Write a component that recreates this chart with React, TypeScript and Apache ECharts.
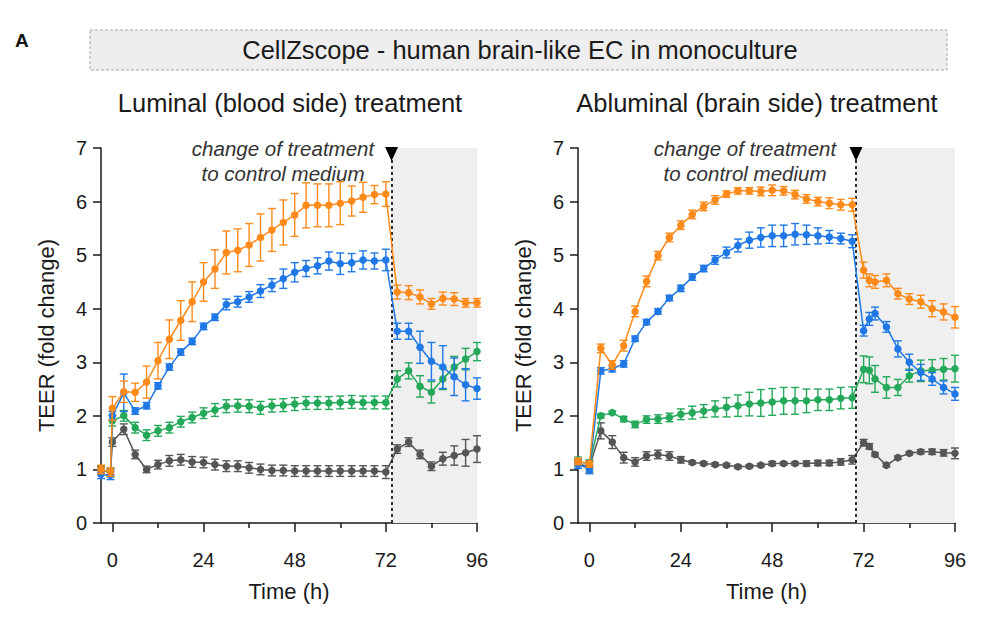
import React, { useEffect, useRef } from "react";
import * as echarts from "echarts";

const FONT = "'Liberation Sans', Arial, Helvetica, sans-serif";

// Sampling times (h)
const luminalTime = [
  -3, -0.5, 0, 3, 6, 9, 12, 15, 18, 21, 24, 27, 30, 33, 36, 39, 42, 45, 48, 51, 54, 57, 60, 63, 66, 69, 72,
  75, 78, 81, 84, 87, 90, 93, 96,
];
const abluminalTime = [
  -3, 0, 3, 6, 9, 12, 15, 18, 21, 24, 27, 30, 33, 36, 39, 42, 45, 48, 51, 54, 57, 60, 63, 66, 69,
  72, 73.5, 75, 78, 81, 84, 87, 90, 93, 96,
];

// Time at which the treatment was replaced by control medium
const luminalSwitch = 73.5;
const abluminalSwitch = 70;

// Axis ticks
const yTicks = [0, 1, 2, 3, 4, 5, 6, 7];
const xMajorTicks = [0, 24, 48, 72, 96];
const xMinorTicks = [12, 36, 60, 84];

// Luminal treatment: mean TEER fold change and error
const lumOrange = [
  1.0, 0.95, 2.14, 2.45, 2.44, 2.63, 3.03, 3.43, 3.78, 4.13, 4.5, 4.74, 5.05, 5.09, 5.19, 5.33, 5.47, 5.61, 5.75,
  5.93, 5.93, 5.93, 5.97, 6.01, 6.08, 6.13, 6.14,
  4.31, 4.3, 4.22, 4.09, 4.19, 4.18, 4.11, 4.11,
];
const lumOrangeErr = [
  0.08, 0.08, 0.22, 0.2, 0.17, 0.3, 0.34, 0.36, 0.37, 0.37, 0.36, 0.36, 0.4, 0.4, 0.4, 0.44, 0.4, 0.42, 0.4,
  0.42, 0.4, 0.4, 0.4, 0.28, 0.28, 0.17, 0.23,
  0.13, 0.13, 0.13, 0.1, 0.12, 0.12, 0.08, 0.08,
];
const lumBlue = [
  0.91, 0.89, 2.0, 2.43, 2.09, 2.19, 2.56, 2.91, 3.19, 3.39, 3.67, 3.84, 4.08, 4.13, 4.22, 4.33, 4.44, 4.56, 4.68,
  4.75, 4.8, 4.89, 4.84, 4.86, 4.91, 4.89, 4.91,
  3.58, 3.58, 3.28, 3.02, 2.91, 2.73, 2.58, 2.51,
];
const lumBlueErr = [
  0.08, 0.08, 0.08, 0.35, 0.06, 0.06, 0.06, 0.06, 0.06, 0.06, 0.06, 0.06, 0.1, 0.1, 0.1, 0.12, 0.12, 0.18, 0.18,
  0.15, 0.15, 0.17, 0.2, 0.17, 0.17, 0.15, 0.2,
  0.15, 0.15, 0.3, 0.35, 0.4, 0.35, 0.3, 0.2,
];
const lumGreen = [
  0.99, 0.94, 1.91, 2.0, 1.78, 1.64, 1.72, 1.78, 1.89, 1.97, 2.05, 2.11, 2.18, 2.19, 2.18, 2.15, 2.19, 2.2, 2.22,
  2.24, 2.24, 2.24, 2.25, 2.26, 2.25, 2.25, 2.25,
  2.69, 2.84, 2.55, 2.44, 2.69, 2.91, 3.06, 3.2,
];
const lumGreenErr = [
  0.08, 0.08, 0.1, 0.1, 0.1, 0.1, 0.1, 0.1, 0.1, 0.1, 0.1, 0.12, 0.12, 0.12, 0.12, 0.12, 0.12, 0.12, 0.12,
  0.12, 0.12, 0.12, 0.12, 0.12, 0.12, 0.12, 0.12,
  0.15, 0.15, 0.2, 0.2, 0.2, 0.2, 0.2, 0.17,
];
const lumGrey = [
  0.99, 0.95, 1.51, 1.75, 1.28, 1.0, 1.09, 1.16, 1.18, 1.14, 1.13, 1.09, 1.06, 1.06, 1.03, 1.0, 0.98, 0.98, 0.97,
  0.97, 0.97, 0.97, 0.97, 0.97, 0.97, 0.97, 0.95,
  1.38, 1.51, 1.28, 1.06, 1.2, 1.26, 1.31, 1.38,
];
const lumGreyErr = [
  0.06, 0.06, 0.08, 0.1, 0.08, 0.06, 0.08, 0.1, 0.1, 0.1, 0.1, 0.1, 0.1, 0.1, 0.1, 0.1, 0.1, 0.1, 0.1,
  0.1, 0.1, 0.1, 0.1, 0.1, 0.1, 0.1, 0.12,
  0.08, 0.08, 0.08, 0.08, 0.12, 0.18, 0.25, 0.25,
];

// Abluminal treatment: mean TEER fold change and error
const ablOrange = [
  1.15, 1.1, 3.26, 2.95, 3.31, 3.95, 4.51, 4.99, 5.33, 5.56, 5.76, 5.91, 6.03, 6.14, 6.2, 6.2, 6.19, 6.21, 6.2,
  6.13, 6.05, 6.0, 5.97, 5.94, 5.94,
  4.72, 4.53, 4.5, 4.53, 4.28, 4.18, 4.13, 4.0, 3.94, 3.84,
];
const ablOrangeErr = [
  0.06, 0.06, 0.08, 0.08, 0.1, 0.1, 0.1, 0.08, 0.08, 0.08, 0.08, 0.08, 0.08, 0.06, 0.06, 0.06, 0.08, 0.1, 0.08,
  0.08, 0.08, 0.08, 0.1, 0.1, 0.12,
  0.15, 0.12, 0.12, 0.12, 0.1, 0.1, 0.12, 0.15, 0.15, 0.2,
];
const ablBlue = [
  1.1, 1.0, 2.84, 2.88, 2.97, 3.44, 3.75, 3.95, 4.2, 4.38, 4.59, 4.75, 4.91, 5.05, 5.18, 5.28, 5.33, 5.36, 5.36,
  5.39, 5.38, 5.36, 5.34, 5.31, 5.26,
  3.59, 3.81, 3.91, 3.66, 3.25, 3.0, 2.81, 2.69, 2.53, 2.41,
];
const ablBlueErr = [
  0.08, 0.08, 0.06, 0.06, 0.06, 0.05, 0.05, 0.05, 0.05, 0.06, 0.06, 0.06, 0.08, 0.1, 0.12, 0.15, 0.18, 0.2, 0.2,
  0.2, 0.18, 0.15, 0.12, 0.1, 0.12,
  0.1, 0.12, 0.12, 0.1, 0.15, 0.15, 0.15, 0.12, 0.12, 0.12,
];
const ablGreen = [
  1.15, 1.1, 2.0, 2.06, 1.94, 1.84, 1.93, 1.94, 1.97, 2.03, 2.06, 2.09, 2.13, 2.16, 2.19, 2.22, 2.24, 2.26, 2.28,
  2.28, 2.28, 2.3, 2.3, 2.33, 2.34,
  2.87, 2.85, 2.69, 2.53, 2.53, 2.75, 2.84, 2.85, 2.87, 2.88,
];
const ablGreenErr = [
  0.08, 0.08, 0.04, 0.03, 0.05, 0.06, 0.07, 0.08, 0.08, 0.1, 0.12, 0.12, 0.15, 0.18, 0.2, 0.22, 0.25, 0.25, 0.25,
  0.25, 0.22, 0.2, 0.2, 0.2, 0.2,
  0.25, 0.25, 0.25, 0.2, 0.15, 0.12, 0.2, 0.2, 0.2, 0.25,
];
const ablGrey = [
  1.1, 1.05, 1.72, 1.51, 1.22, 1.14, 1.25, 1.28, 1.25, 1.18, 1.13, 1.11, 1.09, 1.08, 1.05, 1.06, 1.08, 1.11, 1.11,
  1.11, 1.11, 1.12, 1.12, 1.14, 1.18,
  1.5, 1.43, 1.28, 1.08, 1.22, 1.3, 1.33, 1.33, 1.31, 1.3,
];
const ablGreyErr = [
  0.08, 0.1, 0.15, 0.12, 0.1, 0.08, 0.08, 0.08, 0.08, 0.06, 0.03, 0.03, 0.03, 0.03, 0.03, 0.03, 0.03, 0.04, 0.03,
  0.03, 0.05, 0.05, 0.05, 0.06, 0.08,
  0.06, 0.05, 0.03, 0.03, 0.03, 0.03, 0.04, 0.05, 0.06, 0.1,
];

const ORANGE = "#ff8a1a";
const BLUE = "#1f78e6";
const GREEN = "#24a85a";
const GREY = "#555555";
const INK = "#1a1a1a";

type Curve = { color: string; mean: number[]; err: number[] };
type Panel = {
  title: string;
  titleX: number;
  time: number[];
  switchAt: number;
  curves: Curve[];
  grid: { left: number; width: number };
};

const panels: Panel[] = [
  {
    title: "Luminal (blood side) treatment",
    titleX: 290,
    time: luminalTime,
    switchAt: luminalSwitch,
    grid: { left: 101, width: 376 },
    curves: [
      { color: GREY, mean: lumGrey, err: lumGreyErr },
      { color: GREEN, mean: lumGreen, err: lumGreenErr },
      { color: BLUE, mean: lumBlue, err: lumBlueErr },
      { color: ORANGE, mean: lumOrange, err: lumOrangeErr },
    ],
  },
  {
    title: "Abluminal (brain side) treatment",
    titleX: 757,
    time: abluminalTime,
    switchAt: abluminalSwitch,
    grid: { left: 578, width: 377 },
    curves: [
      { color: GREY, mean: ablGrey, err: ablGreyErr },
      { color: GREEN, mean: ablGreen, err: ablGreenErr },
      { color: BLUE, mean: ablBlue, err: ablBlueErr },
      { color: ORANGE, mean: ablOrange, err: ablOrangeErr },
    ],
  },
];

const GRID_TOP = 148;
const GRID_HEIGHT = 375;

function errorBarRenderer(color: string) {
  return (_params: any, api: any) => {
    const x = api.value(0);
    const top = api.coord([x, api.value(2)]);
    const bot = api.coord([x, api.value(1)]);
    const cap = 4;
    const style = { stroke: color, lineWidth: 1.4 };
    return {
      type: "group",
      children: [
        { type: "line", shape: { x1: top[0], y1: top[1], x2: bot[0], y2: bot[1] }, style },
        { type: "line", shape: { x1: top[0] - cap, y1: top[1], x2: top[0] + cap, y2: top[1] }, style },
        { type: "line", shape: { x1: bot[0] - cap, y1: bot[1], x2: bot[0] + cap, y2: bot[1] }, style },
      ],
    };
  };
}

function buildOption() {
  const grids: any[] = [];
  const xAxes: any[] = [];
  const yAxes: any[] = [];
  const series: any[] = [];
  const graphics: any[] = [];

  panels.forEach((p, i) => {
    grids.push({ left: p.grid.left, top: GRID_TOP, width: p.grid.width, height: GRID_HEIGHT, containLabel: false });

    // main x axis with labelled ticks
    xAxes.push({
      type: "value",
      gridIndex: i,
      min: -3,
      max: 96,
      splitLine: { show: false },
      axisLine: { show: true, onZero: false, lineStyle: { color: INK, width: 1.5 } },
      axisTick: { show: true, length: 9, customValues: xMajorTicks, lineStyle: { color: INK, width: 1.5 } },
      axisLabel: {
        show: true,
        customValues: xMajorTicks,
        color: INK,
        fontFamily: FONT,
        fontSize: 20,
        margin: 27,
      },
      name: "Time (h)",
      nameLocation: "middle",
      nameGap: 57,
      nameTextStyle: { color: INK, fontFamily: FONT, fontSize: 22 },
    });
    // unlabelled intermediate ticks
    xAxes.push({
      type: "value",
      gridIndex: i,
      min: -3,
      max: 96,
      position: "bottom",
      splitLine: { show: false },
      axisLine: { show: false },
      axisTick: { show: true, length: 5, customValues: xMinorTicks, lineStyle: { color: INK, width: 1.5 } },
      axisLabel: { show: false },
    });

    yAxes.push({
      type: "value",
      gridIndex: i,
      min: yTicks[0],
      max: yTicks[yTicks.length - 1],
      interval: 1,
      splitLine: { show: false },
      axisLine: { show: true, onZero: false, lineStyle: { color: INK, width: 1.5 } },
      axisTick: { show: true, length: 8, lineStyle: { color: INK, width: 1.5 } },
      axisLabel: { color: INK, fontFamily: FONT, fontSize: 20, margin: 14 },
      name: "TEER (fold change)",
      nameLocation: "middle",
      nameGap: 44,
      nameTextStyle: { color: INK, fontFamily: FONT, fontSize: 22 },
    });

    const xIdx = i * 2;

    // shaded post-switch period, dashed switch marker and arrowhead
    series.push({
      type: "line",
      xAxisIndex: xIdx,
      yAxisIndex: i,
      data: [],
      silent: true,
      z: 0,
      markArea: {
        silent: true,
        itemStyle: { color: "#efefef" },
        data: [[{ coord: [p.switchAt, 0] }, { coord: [96, 7] }]],
      },
      markLine: {
        silent: true,
        symbol: ["none", "none"],
        label: { show: false },
        lineStyle: { color: INK, width: 1.8, type: [3, 3] },
        data: [[{ coord: [p.switchAt, 0] }, { coord: [p.switchAt, 7] }]],
      },
      markPoint: {
        silent: true,
        data: [
          {
            coord: [p.switchAt, 7],
            symbol: "triangle",
            symbolSize: [13, 14],
            symbolRotate: 180,
            symbolOffset: [0, 6],
            itemStyle: { color: "#000" },
            label: { show: false },
          },
        ],
      },
    });

    p.curves.forEach((c, k) => {
      series.push({
        type: "custom",
        xAxisIndex: xIdx,
        yAxisIndex: i,
        z: 2 + k * 2,
        silent: true,
        renderItem: errorBarRenderer(c.color),
        encode: { x: 0, y: [1, 2] },
        data: p.time.map((t, j) => [t, c.mean[j] - c.err[j], c.mean[j] + c.err[j]]),
      });
      series.push({
        type: "line",
        xAxisIndex: xIdx,
        yAxisIndex: i,
        z: 3 + k * 2,
        silent: true,
        symbol: "circle",
        symbolSize: 7.5,
        showSymbol: true,
        lineStyle: { color: c.color, width: 1.5 },
        itemStyle: { color: c.color, borderWidth: 0 },
        data: p.time.map((t, j) => [t, c.mean[j]]),
      });
    });

    // panel title
    graphics.push({
      type: "text",
      x: p.titleX,
      y: 103,
      style: {
        text: p.title,
        fill: INK,
        font: `25.5px ${FONT}`,
        textAlign: "center",
        textVerticalAlign: "middle",
      },
    });
  });

  // annotation text above each switch line
  const annots = [283, 745];
  annots.forEach((ax) => {
    graphics.push({
      type: "text",
      x: ax,
      y: 148,
      style: {
        text: "change of treatment",
        fill: "#333",
        font: `italic 20.5px ${FONT}`,
        textAlign: "center",
        textVerticalAlign: "middle",
      },
    });
    graphics.push({
      type: "text",
      x: ax,
      y: 173,
      style: {
        text: "to control medium",
        fill: "#333",
        font: `italic 20.5px ${FONT}`,
        textAlign: "center",
        textVerticalAlign: "middle",
      },
    });
  });

  // header box
  graphics.push({
    type: "rect",
    shape: { x: 90, y: 30, width: 857, height: 40 },
    style: { fill: "#eeeeee", stroke: "#a8a8a8", lineWidth: 1, lineDash: [3, 2] },
    z: 0,
  });
  graphics.push({
    type: "text",
    x: 520,
    y: 50,
    style: {
      text: "CellZscope - human brain-like EC in monoculture",
      fill: INK,
      font: `25.5px ${FONT}`,
      textAlign: "center",
      textVerticalAlign: "middle",
    },
    z: 1,
  });
  graphics.push({
    type: "text",
    x: 15,
    y: 40,
    style: { text: "A", fill: "#111", font: `bold 19px ${FONT}`, textAlign: "left", textVerticalAlign: "middle" },
  });

  return {
    animation: false,
    backgroundColor: "#ffffff",
    grid: grids,
    xAxis: xAxes,
    yAxis: yAxes,
    series,
    graphic: graphics,
  };
}

export default function App() {
  const ref = useRef<HTMLDivElement>(null);

  useEffect(() => {
    if (!ref.current) return;
    const chart = echarts.init(ref.current, undefined, { renderer: "svg" });
    chart.setOption(buildOption() as any);
    return () => chart.dispose();
  }, []);

  return (
    <div
      ref={ref}
      style={{ position: "absolute", left: 0, top: 0, width: 991, height: 623, background: "#fff" }}
    />
  );
}
